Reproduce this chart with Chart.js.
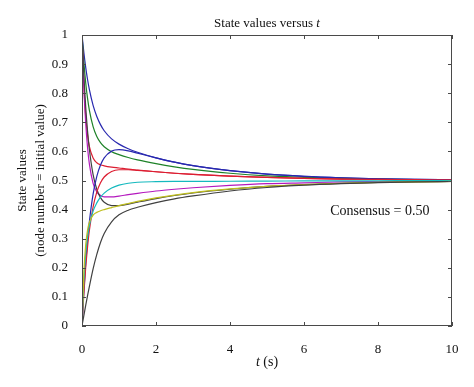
<!DOCTYPE html>
<html>
<head>
<meta charset="utf-8">
<script src="https://cdn.jsdelivr.net/npm/chart.js@4.4.0/dist/chart.umd.min.js"></script>
<style>
    html, body { margin: 0; padding: 0; background: #fff; }
    canvas { display: block; }
</style>
</head>
<body>
<canvas id="estadosChart" width="474" height="387"></canvas>
<script>
// =================== DADOS ===================
// tempo (s), amostrado mais denso perto de t = 0
const tempos = [0, 0.05, 0.1, 0.15, 0.2, 0.3, 0.4, 0.5, 0.6, 0.8, 1, 1.25, 1.5, 2, 2.5, 3, 4, 5, 6, 7, 8, 9, 10];

// nós que começam em 1
const azulDeUm     = [1, 0.940, 0.889, 0.847, 0.812, 0.758, 0.720, 0.692, 0.671, 0.643, 0.625, 0.609, 0.597, 0.578, 0.563, 0.551, 0.534, 0.522, 0.5145, 0.5095, 0.506, 0.504, 0.503];
const verdeDeUm    = [1, 0.907, 0.836, 0.782, 0.741, 0.685, 0.651, 0.630, 0.616, 0.599, 0.589, 0.579, 0.571, 0.558, 0.547, 0.538, 0.525, 0.516, 0.511, 0.507, 0.505, 0.503, 0.502];
const vermelhoDeUm = [1, 0.826, 0.720, 0.656, 0.616, 0.577, 0.561, 0.554, 0.5505, 0.546, 0.543, 0.539, 0.536, 0.530, 0.525, 0.521, 0.515, 0.511, 0.5075, 0.505, 0.504, 0.503, 0.502];
const magentaDeUm  = [1, 0.8205, 0.6975, 0.6135, 0.556, 0.490, 0.461, 0.4486, 0.444, 0.4436, 0.4465, 0.4515, 0.456, 0.464, 0.470, 0.475, 0.483, 0.489, 0.492, 0.495, 0.4965, 0.4976, 0.498];
const cinzaDeUm    = [1, 0.8606, 0.753, 0.670, 0.6065, 0.520, 0.470, 0.441, 0.4254, 0.414, 0.414, 0.419, 0.4256, 0.438, 0.4484, 0.457, 0.470, 0.4796, 0.486, 0.490, 0.4933, 0.4954, 0.4968];

// nós que começam em 0
const azulDeZero     = [0, 0.119, 0.216, 0.295, 0.359, 0.453, 0.514, 0.553, 0.578, 0.601, 0.606, 0.602, 0.594, 0.578, 0.563, 0.551, 0.534, 0.522, 0.5145, 0.5095, 0.506, 0.504, 0.503];
const vermelhoDeZero = [0, 0.112, 0.201, 0.272, 0.329, 0.4095, 0.460, 0.492, 0.512, 0.531, 0.537, 0.537, 0.535, 0.530, 0.525, 0.521, 0.515, 0.511, 0.5075, 0.505, 0.504, 0.503, 0.502];
const cianoDeZero    = [0, 0.1535, 0.247, 0.3065, 0.346, 0.395, 0.423, 0.4426, 0.4566, 0.474, 0.484, 0.4906, 0.494, 0.496, 0.4968, 0.497, 0.4975, 0.498, 0.4985, 0.499, 0.499, 0.4995, 0.4995];
const amareloDeZero  = [0, 0.1828, 0.2787, 0.3296, 0.357, 0.381, 0.3905, 0.396, 0.400, 0.407, 0.4137, 0.421, 0.428, 0.440, 0.450, 0.4586, 0.471, 0.480, 0.486, 0.4905, 0.4934, 0.4954, 0.4968];
const cinzaDeZero    = [0, 0.036, 0.071, 0.104, 0.136, 0.196, 0.246, 0.287, 0.318, 0.358, 0.382, 0.398, 0.408, 0.424, 0.437, 0.447, 0.464, 0.476, 0.484, 0.489, 0.4925, 0.495, 0.4965];

const ticksX = [0, 2, 4, 6, 8, 10];
const ticksY = [0, 0.1, 0.2, 0.3, 0.4, 0.5, 0.6, 0.7, 0.8, 0.9, 1];

const tituloTexto = 'State values versus ';
const rotuloX = ' (s)';
const rotuloY = ['State values', '(node number = initial value)'];
const consenso = 'Consensus = 0.50';
const posConsenso = { x: 8.05, y: 0.395 };

const FONTE = '"Liberation Serif", "DejaVu Serif", serif';

// =================== SÉRIES ===================
const series = [
    { valores: cinzaDeZero, cor: 'rgb(64, 64, 64)' },
    { valores: amareloDeZero, cor: 'rgb(190, 190, 30)' },
    { valores: cianoDeZero, cor: 'rgb(20, 185, 190)' },
    { valores: vermelhoDeZero, cor: 'rgb(220, 30, 50)' },
    { valores: azulDeZero, cor: 'rgb(40, 40, 175)' },
    { valores: cinzaDeUm, cor: 'rgb(64, 64, 64)' },
    { valores: magentaDeUm, cor: 'rgb(180, 25, 190)' },
    { valores: vermelhoDeUm, cor: 'rgb(220, 30, 50)' },
    { valores: verdeDeUm, cor: 'rgb(30, 130, 40)' },
    { valores: azulDeUm, cor: 'rgb(40, 40, 175)' }
];

const datasets = series.map(s => ({
    data: tempos.map((t, i) => ({ x: t, y: s.valores[i] })),
    borderColor: s.cor,
    borderWidth: 1.2,
    pointRadius: 0,
    fill: false,
    cubicInterpolationMode: 'monotone'
}));

// =================== MOLDURA E TEXTOS ===================
const molduraPlugin = {
    id: 'moldura',
    afterDraw(chart) {
        const { ctx, chartArea: a, scales: { x, y } } = chart;
        ctx.save();

        // caixa com ticks para dentro (estilo MATLAB)
        ctx.strokeStyle = '#4a4a4a';
        ctx.lineWidth = 1;
        ctx.strokeRect(a.left + 0.5, a.top + 0.5, a.right - a.left - 1, a.bottom - a.top - 1);
        ctx.beginPath();
        ticksX.forEach(v => {
            const px = Math.round(x.getPixelForValue(v)) + 0.5;
            ctx.moveTo(px, a.bottom); ctx.lineTo(px, a.bottom - 4);
            ctx.moveTo(px, a.top); ctx.lineTo(px, a.top + 4);
        });
        ticksY.forEach(v => {
            const py = Math.round(y.getPixelForValue(v)) + 0.5;
            ctx.moveTo(a.left, py); ctx.lineTo(a.left + 4, py);
            ctx.moveTo(a.right, py); ctx.lineTo(a.right - 4, py);
        });
        ctx.stroke();

        ctx.fillStyle = '#111';
        ctx.textBaseline = 'middle';
        const centro = (a.left + a.right) / 2;

        // título com t em itálico
        ctx.font = '13px ' + FONTE;
        const w1 = ctx.measureText(tituloTexto).width;
        ctx.font = 'italic 13px ' + FONTE;
        const w2 = ctx.measureText('t').width;
        let inicio = centro - (w1 + w2) / 2;
        ctx.textAlign = 'left';
        ctx.font = '13px ' + FONTE;
        ctx.fillText(tituloTexto, inicio, 24);
        ctx.font = 'italic 13px ' + FONTE;
        ctx.fillText('t', inicio + w1, 24);

        // rótulo do eixo x
        ctx.font = 'italic 14px ' + FONTE;
        const wt = ctx.measureText('t').width;
        ctx.font = '14px ' + FONTE;
        const ws = ctx.measureText(rotuloX).width;
        inicio = centro - (wt + ws) / 2;
        ctx.font = 'italic 14px ' + FONTE;
        ctx.fillText('t', inicio, 362);
        ctx.font = '14px ' + FONTE;
        ctx.fillText(rotuloX, inicio + wt, 362);

        // anotação do consenso
        ctx.textAlign = 'center';
        ctx.font = '14px ' + FONTE;
        ctx.fillText(consenso, x.getPixelForValue(posConsenso.x), y.getPixelForValue(posConsenso.y));

        ctx.restore();
    }
};

// =================== GRÁFICO ===================
new Chart(document.getElementById('estadosChart'), {
    type: 'line',
    data: { datasets },
    options: {
        responsive: false,
        animation: false,
        events: [],
        layout: { padding: { top: 35, right: 22, left: 0, bottom: 0 } },
        plugins: {
            legend: { display: false },
            tooltip: { enabled: false }
        },
        scales: {
            x: {
                type: 'linear',
                min: 0,
                max: 10,
                afterBuildTicks: scale => { scale.ticks = ticksX.map(v => ({ value: v })); },
                afterFit: scale => { scale.height = 61; },
                grid: { display: false },
                border: { display: false },
                ticks: {
                    color: '#111',
                    padding: 8,
                    maxRotation: 0,
                    callback: v => String(v),
                    font: { family: FONTE, size: 13 }
                }
            },
            y: {
                type: 'linear',
                min: 0,
                max: 1,
                afterBuildTicks: scale => { scale.ticks = ticksY.map(v => ({ value: v })); },
                afterFit: scale => { scale.width = 82; },
                grid: { display: false },
                border: { display: false },
                ticks: {
                    color: '#111',
                    padding: 6,
                    callback: v => String(v),
                    font: { family: FONTE, size: 13 }
                },
                title: {
                    display: true,
                    text: rotuloY,
                    color: '#111',
                    padding: { top: 13, bottom: 0 },
                    font: { family: FONTE, size: 13, lineHeight: 1.4 }
                }
            }
        }
    },
    plugins: [molduraPlugin]
});
</script>
</body>
</html>
